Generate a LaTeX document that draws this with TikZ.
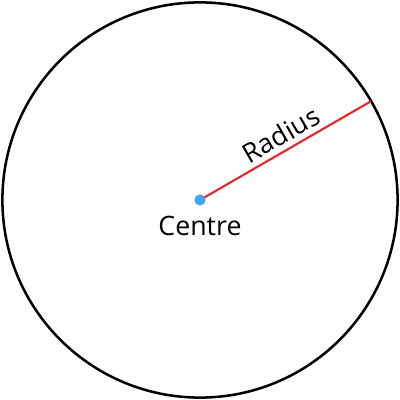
\documentclass[tikz,border=0pt]{standalone}
\usepackage{fontspec}
\setmainfont{Open Sans}
\usepackage{tikz}
\usetikzlibrary{positioning,calc}
\definecolor{rim}{HTML}{000000}
\definecolor{radline}{HTML}{E8262B}
\definecolor{dotblue}{HTML}{42A5F5}
\tikzset{
  rimline/.style={draw=rim,line width=1.8pt},
  radl/.style={draw=radline,line width=1.5pt},
  lbl/.style={font=\fontsize{19}{22}\selectfont,inner sep=1pt},
}
\begin{document}
\begin{tikzpicture}
  \useasboundingbox (-5,-5) rectangle (5,5);
  \coordinate (o) at (0,0);
  \draw[rimline] (o) circle (4.94);
  \coordinate (edge) at (30:4.94);
  \draw[radl] (o) -- (edge)
    node[midway,sloped,above=2.5pt,lbl,xshift=1mm] (rad) {Radius};
  \fill[dotblue] (o) circle (0.14);
  \node[lbl,below=3.5mm of o] (centre) {Centre};
\end{tikzpicture}
\end{document}
